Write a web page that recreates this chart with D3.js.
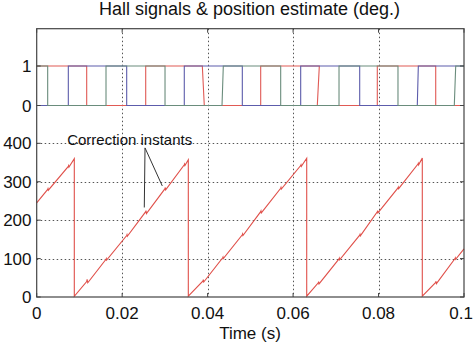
<!DOCTYPE html>
<html><head><meta charset="utf-8">
<script src="https://cdn.jsdelivr.net/npm/d3@7"></script>
<style>
html,body{margin:0;padding:0;background:#fff;}
svg{display:block;font-family:"Liberation Sans",Arial,sans-serif;}
</style></head>
<body>
<svg id="c" width="474" height="347"></svg>
<script>
// ---- data ----
const title = "Hall signals & position estimate (deg.)";
const xLabel = "Time (s)";
const xTicks = [0, 0.02, 0.04, 0.06, 0.08, 0.1];
const xTickLabels = ["0", "0.02", "0.04", "0.06", "0.08", "0.1"];
const posTicks = [0, 100, 200, 300, 400];
const hallTicks = [0, 1];

// Hall sensor signals (time s, level)
const hallRedT = [0, 0.01170, 0.01170, 0.02551, 0.02551, 0.03876, 0.03922, 0.05242, 0.05242, 0.06614, 0.06567, 0.07971, 0.07971, 0.09338, 0.09338, 0.1];
const hallRedV = [1, 1, 0, 0, 1, 1, 0, 0, 1, 1, 0, 0, 1, 1, 0, 0];
const hallBlueT = [0, 0.00740, 0.00740, 0.02106, 0.02106, 0.03454, 0.03454, 0.04812, 0.04812, 0.06178, 0.06178, 0.07559, 0.07559, 0.08907, 0.08931, 0.1];
const hallBlueV = [0, 0, 1, 1, 0, 0, 1, 1, 0, 0, 1, 1, 0, 0, 1, 1];
const hallGreenT = [0, 0.00257, 0.00257, 0.01622, 0.01622, 0.03003, 0.03003, 0.04337, 0.04367, 0.05710, 0.05710, 0.07075, 0.07075, 0.08455, 0.08455, 0.09773, 0.09806, 0.1];
const hallGreenV = [1, 1, 0, 0, 1, 1, 0, 0, 1, 1, 0, 0, 1, 1, 0, 0, 1, 1];

// Position estimate (time s, degrees)
const posT = [0,
  0.00257, 0.00264, 0.00272, 0.00740, 0.00747, 0.00755, 0.00880, 0.00880,
  0.01170, 0.01180, 0.01195, 0.01622, 0.01629, 0.01637, 0.02106, 0.02113, 0.02121,
  0.02551, 0.02558, 0.02568, 0.03003, 0.03010, 0.03018, 0.03454, 0.03461, 0.03469, 0.03548, 0.03548,
  0.03892, 0.03899, 0.03909, 0.04353, 0.04360, 0.04368, 0.04812, 0.04819, 0.04827,
  0.05242, 0.05249, 0.05257, 0.05710, 0.05717, 0.05725, 0.06178, 0.06185, 0.06193, 0.06319, 0.06319,
  0.06590, 0.06597, 0.06607, 0.07075, 0.07082, 0.07090, 0.07559, 0.07566, 0.07574,
  0.07971, 0.07978, 0.07986, 0.08455, 0.08462, 0.08470, 0.08923, 0.08930, 0.08938, 0.09024, 0.09024,
  0.09338, 0.09345, 0.09355, 0.09790, 0.09797, 0.09805, 0.1];
const posV = [245,
  280, 282, 278, 340, 342, 338, 360, 2,
  40, 46, 37, 98, 100, 96, 160, 162, 158,
  222, 225, 217, 282, 285, 279, 344, 346, 342, 357, 2,
  42, 45, 39, 102, 104, 100, 162, 164, 160,
  222, 224, 219, 283, 285, 281, 342, 344, 340, 361, 2,
  37, 40, 34, 99, 101, 97, 161, 163, 159,
  222, 225, 219, 284, 286, 282, 346, 348, 344, 362, 2,
  38, 41, 35, 100, 102, 98, 125];

// annotation (data coords)
const annoText = "Correction instants";
const annoTextPos = [0.02176, 395];
const annoFrom = [0.02535, 388];
const annoTargets = [[0.02518, 233], [0.02939, 289]];

// ---- drawing ----
const svg = d3.select("#c");
const L = 36.7, R = 464, T = 28.7, B = 297;
const x = d3.scaleLinear().domain([0, 0.1]).range([L, R]);
const yPos = d3.scaleLinear().domain([0, 400]).range([B, 143.3]);
const yHall = d3.scaleLinear().domain([0, 1]).range([105.5, 66]);

const grid = svg.append("g").attr("stroke", "#555").attr("stroke-width", 1).attr("stroke-dasharray", "1.5,2.5");
xTicks.slice(1, -1).forEach(t => {
  grid.append("line").attr("x1", Math.round(x(t)) + 0.5).attr("x2", Math.round(x(t)) + 0.5).attr("y1", T).attr("y2", B);
});
posTicks.slice(1).forEach(v => {
  grid.append("line").attr("x1", L).attr("x2", R).attr("y1", Math.round(yPos(v)) + 0.5).attr("y2", Math.round(yPos(v)) + 0.5);
});

const mk = (T_, V_) => T_.map((t, i) => [t, V_[i]]);
const hallLine = d3.line().x(d => x(d[0])).y(d => yHall(d[1]));
[[hallRedT, hallRedV, "#e05a55"], [hallBlueT, hallBlueV, "#5c5cab"], [hallGreenT, hallGreenV, "#6a8c7c"]].forEach(([tt, vv, c]) => {
  svg.append("path").attr("d", hallLine(mk(tt, vv))).attr("fill", "none").attr("stroke", c).attr("stroke-width", 1.1);
});

const posLine = d3.line().x(d => x(d[0])).y(d => yPos(d[1]));
svg.append("path").attr("d", posLine(mk(posT, posV))).attr("fill", "none").attr("stroke", "#e0504a").attr("stroke-width", 1.1);

// frame
svg.append("rect").attr("x", L).attr("y", T).attr("width", R - L).attr("height", B - T)
  .attr("fill", "none").attr("stroke", "#444").attr("stroke-width", 1.2);

// ticks
const tk = svg.append("g").attr("stroke", "#444").attr("stroke-width", 1);
xTicks.forEach(t => {
  tk.append("line").attr("x1", x(t)).attr("x2", x(t)).attr("y1", B).attr("y2", B - 4);
  tk.append("line").attr("x1", x(t)).attr("x2", x(t)).attr("y1", T).attr("y2", T + 4);
});
posTicks.forEach(v => {
  tk.append("line").attr("x1", L).attr("x2", L + 4).attr("y1", yPos(v)).attr("y2", yPos(v));
  tk.append("line").attr("x1", R).attr("x2", R - 4).attr("y1", yPos(v)).attr("y2", yPos(v));
});
hallTicks.forEach(v => {
  tk.append("line").attr("x1", L).attr("x2", L + 4).attr("y1", yHall(v)).attr("y2", yHall(v));
  tk.append("line").attr("x1", R).attr("x2", R - 4).attr("y1", yHall(v)).attr("y2", yHall(v));
});

const fs = 17;
const txt = svg.append("g").attr("fill", "#111").attr("font-size", fs);
xTicks.forEach((t, i) => {
  const last = i === xTicks.length - 1;
  txt.append("text").attr("x", last ? 473 : x(t)).attr("y", 319)
    .attr("text-anchor", last ? "end" : "middle").text(xTickLabels[i]);
});
posTicks.forEach(v => {
  txt.append("text").attr("x", 31.5).attr("y", yPos(v) + 6).attr("text-anchor", "end").text(String(v));
});
hallTicks.forEach(v => {
  txt.append("text").attr("x", 31.5).attr("y", yHall(v) + 6).attr("text-anchor", "end").text(String(v));
});
txt.append("text").attr("x", 250).attr("y", 339).attr("text-anchor", "middle").text(xLabel);
svg.append("text").attr("x", 249.5).attr("y", 15).attr("text-anchor", "middle").attr("font-size", 18).attr("fill", "#111").text(title);

// annotation
svg.append("text").attr("x", x(annoTextPos[0])).attr("y", yPos(annoTextPos[1])).attr("text-anchor", "middle")
  .attr("font-size", 15).attr("fill", "#111").text(annoText);
annoTargets.forEach(p => {
  svg.append("line").attr("x1", x(annoFrom[0])).attr("y1", yPos(annoFrom[1])).attr("x2", x(p[0])).attr("y2", yPos(p[1]))
    .attr("stroke", "#333").attr("stroke-width", 1);
});
</script>
</body></html>
